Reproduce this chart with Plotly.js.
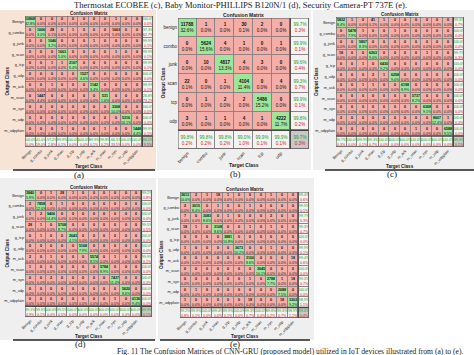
<!DOCTYPE html>
<html><head><meta charset="utf-8">
<script src="https://cdn.plot.ly/plotly-3.0.1.min.js"></script>
<style>html,body{margin:0;padding:0;background:#fff}#chart{width:474px;height:355px}</style>
</head><body><div id="chart"></div>
<script>
const labels11 = ["Benign","g_combo","g_junk","g_scan","g_tcp","g_udp","m_ack","m_scan","m_syn","m_udp","m_udpplain"];
const labels6 = ["benign","combo","junk","scan","tcp","udp"];

const matrixA = [
 [10868,0,0,0,0,0,0,0,1,0,0],
 [0,1006,28,0,1,0,0,0,1663,0,0],
 [0,0,1046,0,0,0,1,0,0,0,0],
 [0,0,0,1663,0,0,0,0,1,0,0],
 [0,0,1,1,2107,0,0,0,0,0,0],
 [0,0,0,0,0,1527,0,0,0,0,0],
 [0,0,1,0,0,0,1142,0,0,0,0],
 [0,1447,0,0,0,0,0,531,0,0,0],
 [0,0,0,0,0,0,0,0,3308,0,0],
 [0,0,0,0,0,0,0,0,0,5316,0],
 [0,0,0,1,0,0,0,1,0,0,1448]];
const matrixB = [
 [11788,1,1,30,2,0],
 [0,5624,4,1,0,1],
 [0,10,4817,4,3,0],
 [22,0,1,4104,0,4],
 [0,1,2,2,5486,0],
 [3,1,1,4,1,4222]];
const matrixC = [
 [5832,1,0,41,1,0,0,0,0,0,0],
 [0,5478,1,0,0,1,0,0,0,0,0],
 [0,0,5807,0,0,0,0,0,0,0,0],
 [18,0,0,6263,0,0,0,0,1,0,0],
 [0,0,1,0,6430,0,0,0,0,0,0],
 [0,0,0,2,1,6258,0,0,0,0,0],
 [0,0,1,1,0,0,6198,0,0,0,0],
 [0,0,0,0,0,0,0,5737,0,0,0],
 [0,0,0,0,0,0,0,0,6368,0,0],
 [2,0,0,0,0,0,0,0,0,8607,1],
 [0,0,0,0,0,0,0,1,0,0,6588]];
const matrixD = [
 [3840,0,1,28,1,0,0,0,0,0,0],
 [2,7858,0,1,0,0,0,0,0,0,0],
 [1,2,9406,0,0,0,0,0,0,0,0],
 [28,1,0,5708,0,0,0,0,0,0,0],
 [0,1,0,0,2643,0,0,0,0,0,0],
 [0,0,0,0,0,5168,0,0,0,0,0],
 [2,0,1,0,0,0,5574,0,1,0,0],
 [1,0,0,0,0,0,0,5784,0,0,0],
 [0,0,2,0,0,0,0,0,7437,0,0],
 [0,0,0,0,0,0,0,0,0,5620,0],
 [0,0,0,0,0,0,0,0,1,0,6136]];
const matrixE = [
 [3613,2,1,18,1,0,0,0,1,0,0],
 [2,3015,0,1,0,0,1,0,0,0,0],
 [7,0,3083,0,1,0,0,0,2,0,0],
 [18,1,0,3108,0,0,1,0,1,0,0],
 [0,0,0,0,3881,0,0,0,0,0,0],
 [1,0,0,0,0,3673,0,0,1,0,0],
 [0,0,0,0,0,0,3100,0,0,0,18],
 [0,0,0,0,0,0,0,3645,0,0,0],
 [0,0,0,0,0,0,1,0,2788,1,18],
 [0,1,0,0,0,0,0,0,0,2688,0],
 [1,0,0,0,0,0,18,0,0,18,3303]];

const W = 474, H = 355;
const px = x => x / W, py = y => 1 - y / H;
const C_OFF = '#f4aea7', C_DIAG = '#9fe59c', C_SUM = '#f3f3f3', C_CORNER = '#c8c8c8';
const G = '#16a016', R = '#d42020';

const traces = [], shapes = [], annotations = [];
const layout = {
  width: W, height: H, margin: {l:0, r:0, t:0, b:0},
  paper_bgcolor: '#ffffff', plot_bgcolor: 'rgba(0,0,0,0)',
  showlegend: false, shapes, annotations,
  font: {family: 'Liberation Sans, Arial, sans-serif', color: '#222'}
};

const panels = [
  {x0:0, x1:156, y0:10, y1:170, c:'#f7e4d6'},
  {x0:157, x1:311, y0:10, y1:170, c:'#efefef'},
  {x0:313, x1:474, y0:10, y1:170, c:'#efefef'},
  {x0:0, x1:156, y0:178, y1:340, c:'#efefef'},
  {x0:158, x1:314, y0:178, y1:340, c:'#efefef'}
];
panels.forEach(p => shapes.push({type:'rect', xref:'paper', yref:'paper', x0:px(p.x0), x1:px(p.x1), y0:py(p.y1), y1:py(p.y0), fillcolor:p.c, line:{width:0}, layer:'below'}));
[[13,155,170],[325,474,170],[13,155,340],[160,310,340]].forEach(l => shapes.push({type:'line', xref:'paper', yref:'paper', x0:px(l[0]), x1:px(l[1]), y0:py(l[2]), y1:py(l[2]), line:{color:'#222', width:1.5}}));

function pct(v){ return (Math.round(v*10)/10).toFixed(1) + '%'; }
function two(p){ return '<span style="color:'+G+'">'+pct(p)+'</span><br><span style="color:'+R+'">'+pct(100-p)+'</span>'; }
function note(x, y, text, font, extra){ annotations.push(Object.assign({xref:'paper', yref:'paper', x:px(x), y:py(y), xanchor:'center', yanchor:'middle', borderpad:0, text:text, showarrow:false, font:font}, extra || {})); }

function addPanel(k, labels, M, box, fs, tag) {
  const n = labels.length, N = n + 1;
  let total = 0; M.forEach(r => r.forEach(v => total += v));
  const z = [], text = [];
  for (let i = 0; i < N; i++) {
    const zr = [], tr = [];
    for (let j = 0; j < N; j++) {
      if (i < n && j < n) {
        zr.push(i === j ? 1 : 0);
        tr.push('<b>' + M[i][j] + '</b><br>' + pct(M[i][j] / total * 100));
      } else if (i < n && j === n) {
        const s = M[i].reduce((a,b)=>a+b,0);
        zr.push(2); tr.push(two(s ? M[i][i] / s * 100 : 100));
      } else if (i === n && j < n) {
        let s = 0; for (let r = 0; r < n; r++) s += M[r][j];
        zr.push(2); tr.push(two(s ? M[j][j] / s * 100 : 100));
      } else {
        let d = 0; for (let r = 0; r < n; r++) d += M[r][r];
        zr.push(3); tr.push(two(d / total * 100));
      }
    }
    z.push(zr); text.push(tr);
  }
  const xs = [...Array(N).keys()];
  traces.push({
    type:'heatmap', xaxis:'x'+k, yaxis:'y'+k, x:xs, y:xs, z:z, text:text,
    texttemplate:'%{text}', textfont:{size:fs.cell, color:'#111', family:'Liberation Sans, Arial, sans-serif'},
    zmin:0, zmax:3, showscale:false, hoverinfo:'skip', xgap:1, ygap:1,
    colorscale:[[0,C_OFF],[0.1667,C_OFF],[0.1667,C_DIAG],[0.5,C_DIAG],[0.5,C_SUM],[0.8333,C_SUM],[0.8333,C_CORNER],[1,C_CORNER]]
  });
  const tv = [...Array(n).keys()];
  const xn = 'xaxis' + (k === 1 ? '' : k), yn = 'yaxis' + (k === 1 ? '' : k);
  layout[xn] = {domain:[px(box.x0), px(box.x1)], anchor:'y'+k, range:[-0.5, n+0.5], tickmode:'array', tickvals:tv, ticktext:labels,
    tickangle:-45, tickfont:{size:fs.tick, color:'#222'}, showgrid:false, zeroline:false, showline:false, ticks:'', fixedrange:true};
  layout[yn] = {domain:[py(box.y1), py(box.y0)], anchor:'x'+k, range:[n+0.5, -0.5], tickmode:'array', tickvals:tv, ticktext:labels,
    tickfont:{size:fs.tick, color:'#222'}, showgrid:false, zeroline:false, showline:false, ticks:'', fixedrange:true};
  shapes.push({type:'rect', xref:'x'+k, yref:'y'+k, x0:-0.5, x1:n+0.5, y0:-0.5, y1:n+0.5, fillcolor:'#8f8383', line:{width:0}, layer:'below'});
  shapes.push({type:'line', xref:'x'+k, yref:'y'+k, x0:n-0.5, x1:n-0.5, y0:-0.5, y1:n+0.5, line:{color:'#444', width:1.3}});
  shapes.push({type:'line', xref:'x'+k, yref:'y'+k, x0:-0.5, x1:n+0.5, y0:n-0.5, y1:n-0.5, line:{color:'#444', width:1.3}});
  shapes.push({type:'rect', xref:'x'+k, yref:'y'+k, x0:-0.5, x1:n+0.5, y0:-0.5, y1:n+0.5, line:{color:'#555', width:1}});
  const cx = (box.x0 + box.x1) / 2, cy = (box.y0 + box.y1) / 2;
  note(cx, box.y0 - 2.8, '<b>Confusion Matrix</b>', {size:fs.title, color:'#222'});
  note(box.ox, cy, '<b>Output Class</b>', {size:fs.title, color:'#222'}, {textangle:-90});
  note(cx, box.ty, '<b>Target Class</b>', {size:fs.title, color:'#222'});
  note(box.lx, box.ly, tag, {size:9, color:'#222', family:'Liberation Serif, Times New Roman, serif'});
}

const fs11 = {cell:3.6, tick:3.8, title:4.6};
const fs6 = {cell:4.6, tick:4.5, title:5};
addPanel(1, labels11, matrixA, {x0:25, x1:153, y0:16, y1:147, ox:7, ty:166, lx:79, ly:175}, fs11, '(a)');
addPanel(2, labels6, matrixB, {x0:178, x1:309, y0:18, y1:149, ox:162, ty:165, lx:235, ly:174}, fs6, '(b)');
addPanel(3, labels11, matrixC, {x0:336, x1:464, y0:17, y1:147, ox:316, ty:166, lx:392, ly:174}, fs11, '(c)');
addPanel(4, labels11, matrixD, {x0:25, x1:152, y0:190, y1:317, ox:7, ty:336, lx:80, ly:344}, fs11, '(d)');
addPanel(5, labels11, matrixE, {x0:180, x1:309, y0:192, y1:318, ox:161, ty:336, lx:235, ly:344}, fs11, '(e)');

note(240, 5, 'Thermostat ECOBEE (c), Baby Monitor-PHILLIPS B120N/1 (d), Security Camera-PT 737E (e).', {size:8.6, color:'#222', family:'Liberation Serif, Times New Roman, serif'});
note(290, 351, 'Fig. 11 The Confusion Matrices of CNN-GRU (proposed model) utilized in IoT devices illustrated from (a) to (e).', {size:7.6, color:'#222', family:'Liberation Serif, Times New Roman, serif'});

Plotly.newPlot('chart', traces, layout, {staticPlot:true, displayModeBar:false});
</script></body></html>
